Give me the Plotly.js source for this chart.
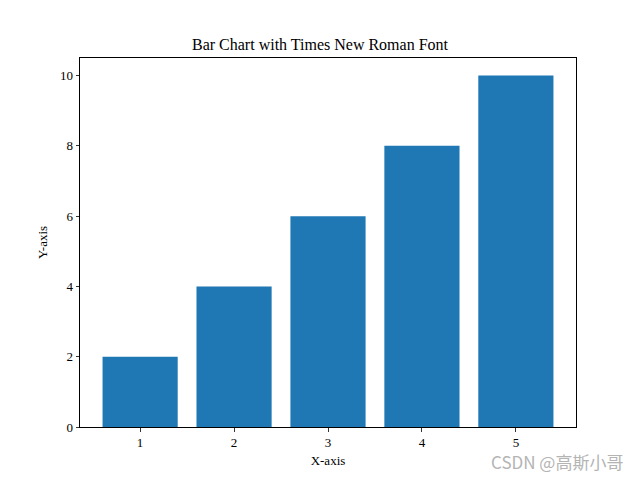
<!DOCTYPE html>
<html>
<head>
<meta charset="utf-8">
<script src="https://cdn.plot.ly/plotly-3.0.1.min.js"></script>
<style>
  html, body { margin: 0; padding: 0; background: #fff; }
  #chart { width: 640px; height: 480px; }
</style>
</head>
<body>
<div id="chart"></div>
<script>
"use strict";

const categories = [1, 2, 3, 4, 5];
const values = [2, 4, 6, 8, 10];
const yTicks = [0, 2, 4, 6, 8, 10];

const SERIF = "Liberation Serif, Times New Roman, serif";

const trace = {
  type: "bar",
  x: categories,
  y: values,
  width: 0.8,
  marker: { color: "#1f77b4", line: { width: 0 } },
  hoverinfo: "x+y",
};

const axisBase = {
  showgrid: false,
  zeroline: false,
  showline: true,
  mirror: true,
  linecolor: "#000",
  linewidth: 1,
  ticks: "outside",
  ticklen: 3.5,
  tickwidth: 0.8,
  tickcolor: "#000",
  tickfont: { family: SERIF, size: 13, color: "#000" },
};

const layout = {
  width: 640,
  height: 480,
  paper_bgcolor: "#fff",
  plot_bgcolor: "#fff",
  font: { family: SERIF, color: "#000" },
  showlegend: false,
  margin: { l: 80, r: 64, t: 58, b: 53 },
  title: {
    text: "Bar Chart with Times New Roman Font",
    font: { family: SERIF, size: 16, color: "#000" },
    x: 0.5,
    xanchor: "center",
    y: 1 - 44 / 480,
    yanchor: "middle",
  },
  xaxis: {
    ...axisBase,
    range: [0.36, 5.64],
    tickvals: categories,
    ticktext: categories.map(String),
    title: { text: "X-axis", font: { family: SERIF, size: 13, color: "#000" }, standoff: 6 },
  },
  yaxis: {
    ...axisBase,
    range: [0, 10.5],
    tickvals: yTicks,
    ticktext: yTicks.map(String),
    title: { text: "Y-axis", font: { family: SERIF, size: 13, color: "#000" }, standoff: 9 },
  },
  annotations: [
    {
      text: "CSDN @高斯小哥",
      xref: "paper",
      yref: "paper",
      x: 1 + 49 / 496,
      y: -34 / 369,
      xanchor: "right",
      yanchor: "middle",
      showarrow: false,
      font: { family: "Noto Sans CJK SC, sans-serif", size: 17, color: "#b4b4b4" },
    },
  ],
};

Plotly.newPlot("chart", [trace], layout, { displayModeBar: false, staticPlot: true });
</script>
</body>
</html>
